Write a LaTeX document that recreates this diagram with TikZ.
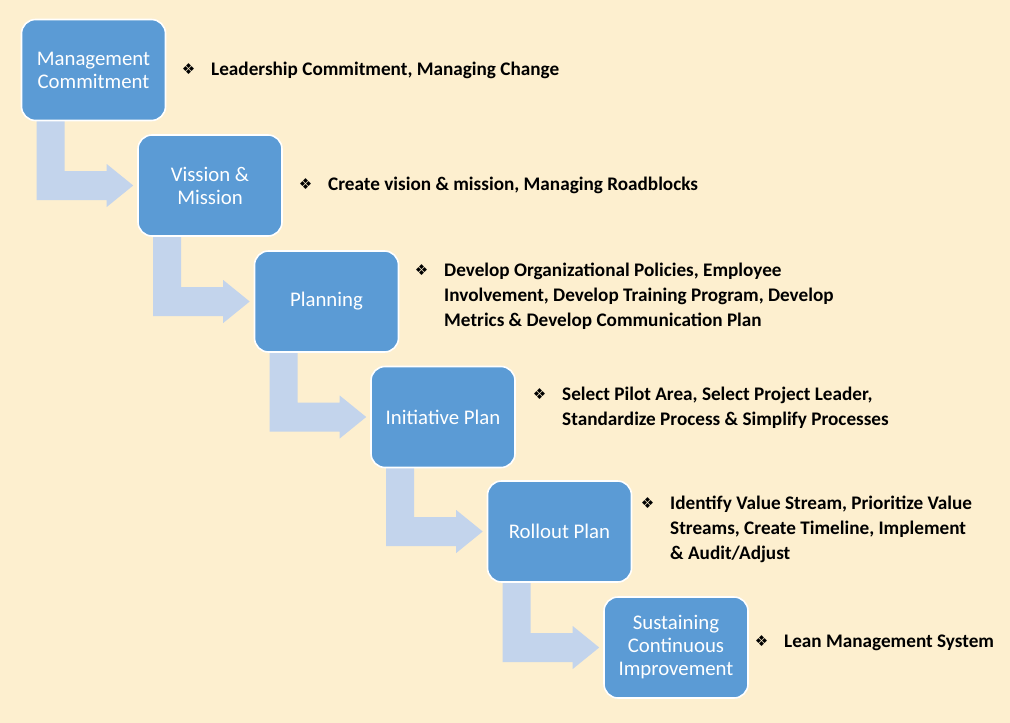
\documentclass[tikz,border=0pt]{standalone}
\usepackage{fontspec}
\setmainfont{Carlito}
\newfontfamily\bulfont{DejaVu Sans}
\usetikzlibrary{calc}
\definecolor{bgcol}{HTML}{FDEFCF}
\definecolor{boxcol}{HTML}{5B9BD5}
\definecolor{arrcol}{HTML}{C3D4EC}
\newcommand{\bul}{\raisebox{0.5pt}{\bulfont\fontsize{15}{15}\selectfont ❖}}
\newcommand{\dline}[1]{\hbox{#1}}
\newcommand{\fline}[1]{\hbox{\llap{\bul\hspace{16pt}}#1}}
\pgfdeclarelayer{bglayer}
\pgfdeclarelayer{arrlayer}
\pgfsetlayers{bglayer,arrlayer,main}
\tikzset{
  stagebox/.style={draw=white, line width=1.6pt, fill=boxcol, rounded corners=14pt,
    minimum width=144pt, minimum height=101pt, inner sep=2pt, text=white, align=center,
    font=\fontsize{20.8}{23}\selectfont},
  desc/.style={anchor=base west, inner sep=0pt, font=\fontsize{19.2}{25}\bfseries\selectfont, text=black},
  bentarrow/.style={fill=arrcol}
}
\newcommand{\bent}[2]{%
  \fill[bentarrow] let \p1=(#1.south west), \p2=(#2.west) in
    (\x1+16pt,\y1+3pt) -- (\x1+44pt,\y1+3pt) -- (\x1+44pt,\y2+14.5pt) --
    (\x1+86pt,\y2+14.5pt) -- (\x1+86pt,\y2+21.5pt) -- (\x2-4pt,\y2) --
    (\x1+86pt,\y2-21.5pt) -- (\x1+86pt,\y2-14.5pt) -- (\x1+16pt,\y2-14.5pt) -- cycle;}
\begin{document}
\begin{tikzpicture}[x=1pt,y=-1pt]
\begin{pgfonlayer}{bglayer}
  \fill[bgcol] (0,0) rectangle (1010,723);
\end{pgfonlayer}
\useasboundingbox (0,0) rectangle (1010,723);
% boxes
\node[stagebox] (b1) at (93.5,70) {Management\\Commitment};
\node[stagebox] (b2) at (210,185.5) {Vission \&\\Mission};
\node[stagebox] (b3) at (326.5,301.5) {Planning};
\node[stagebox] (b4) at (443,417) {Initiative Plan};
\node[stagebox] (b5) at (559.5,531.5) {Rollout Plan};
\node[stagebox] (b6) at (676,647.5) {Sustaining\\Continuous\\Improvement};
% descriptions
\node[desc] (d1) at (211,75) {\vtop{\fline{Leadership Commitment, Managing Change}}};
\node[desc] (d2) at (328,190) {\vtop{\fline{Create vision \& mission, Managing Roadblocks}}};
\node[desc] (d3) at (444,276) {\vtop{\fline{Develop Organizational Policies, Employee}\dline{Involvement, Develop Training Program, Develop}\dline{Metrics \& Develop Communication Plan}}};
\node[desc] (d4) at (562,400) {\vtop{\fline{Select Pilot Area, Select Project Leader,}\dline{Standardize Process \& Simplify Processes}}};
\node[desc] (d5) at (670,509) {\vtop{\fline{Identify Value Stream, Prioritize Value}\dline{Streams, Create Timeline, Implement}\dline{\& Audit/Adjust}}};
\node[desc] (d6) at (784,647) {\vtop{\fline{Lean Management System}}};
% arrows
\begin{pgfonlayer}{arrlayer}
  \bent{b1}{b2}
  \bent{b2}{b3}
  \bent{b3}{b4}
  \bent{b4}{b5}
  \bent{b5}{b6}
\end{pgfonlayer}
\end{tikzpicture}
\end{document}
